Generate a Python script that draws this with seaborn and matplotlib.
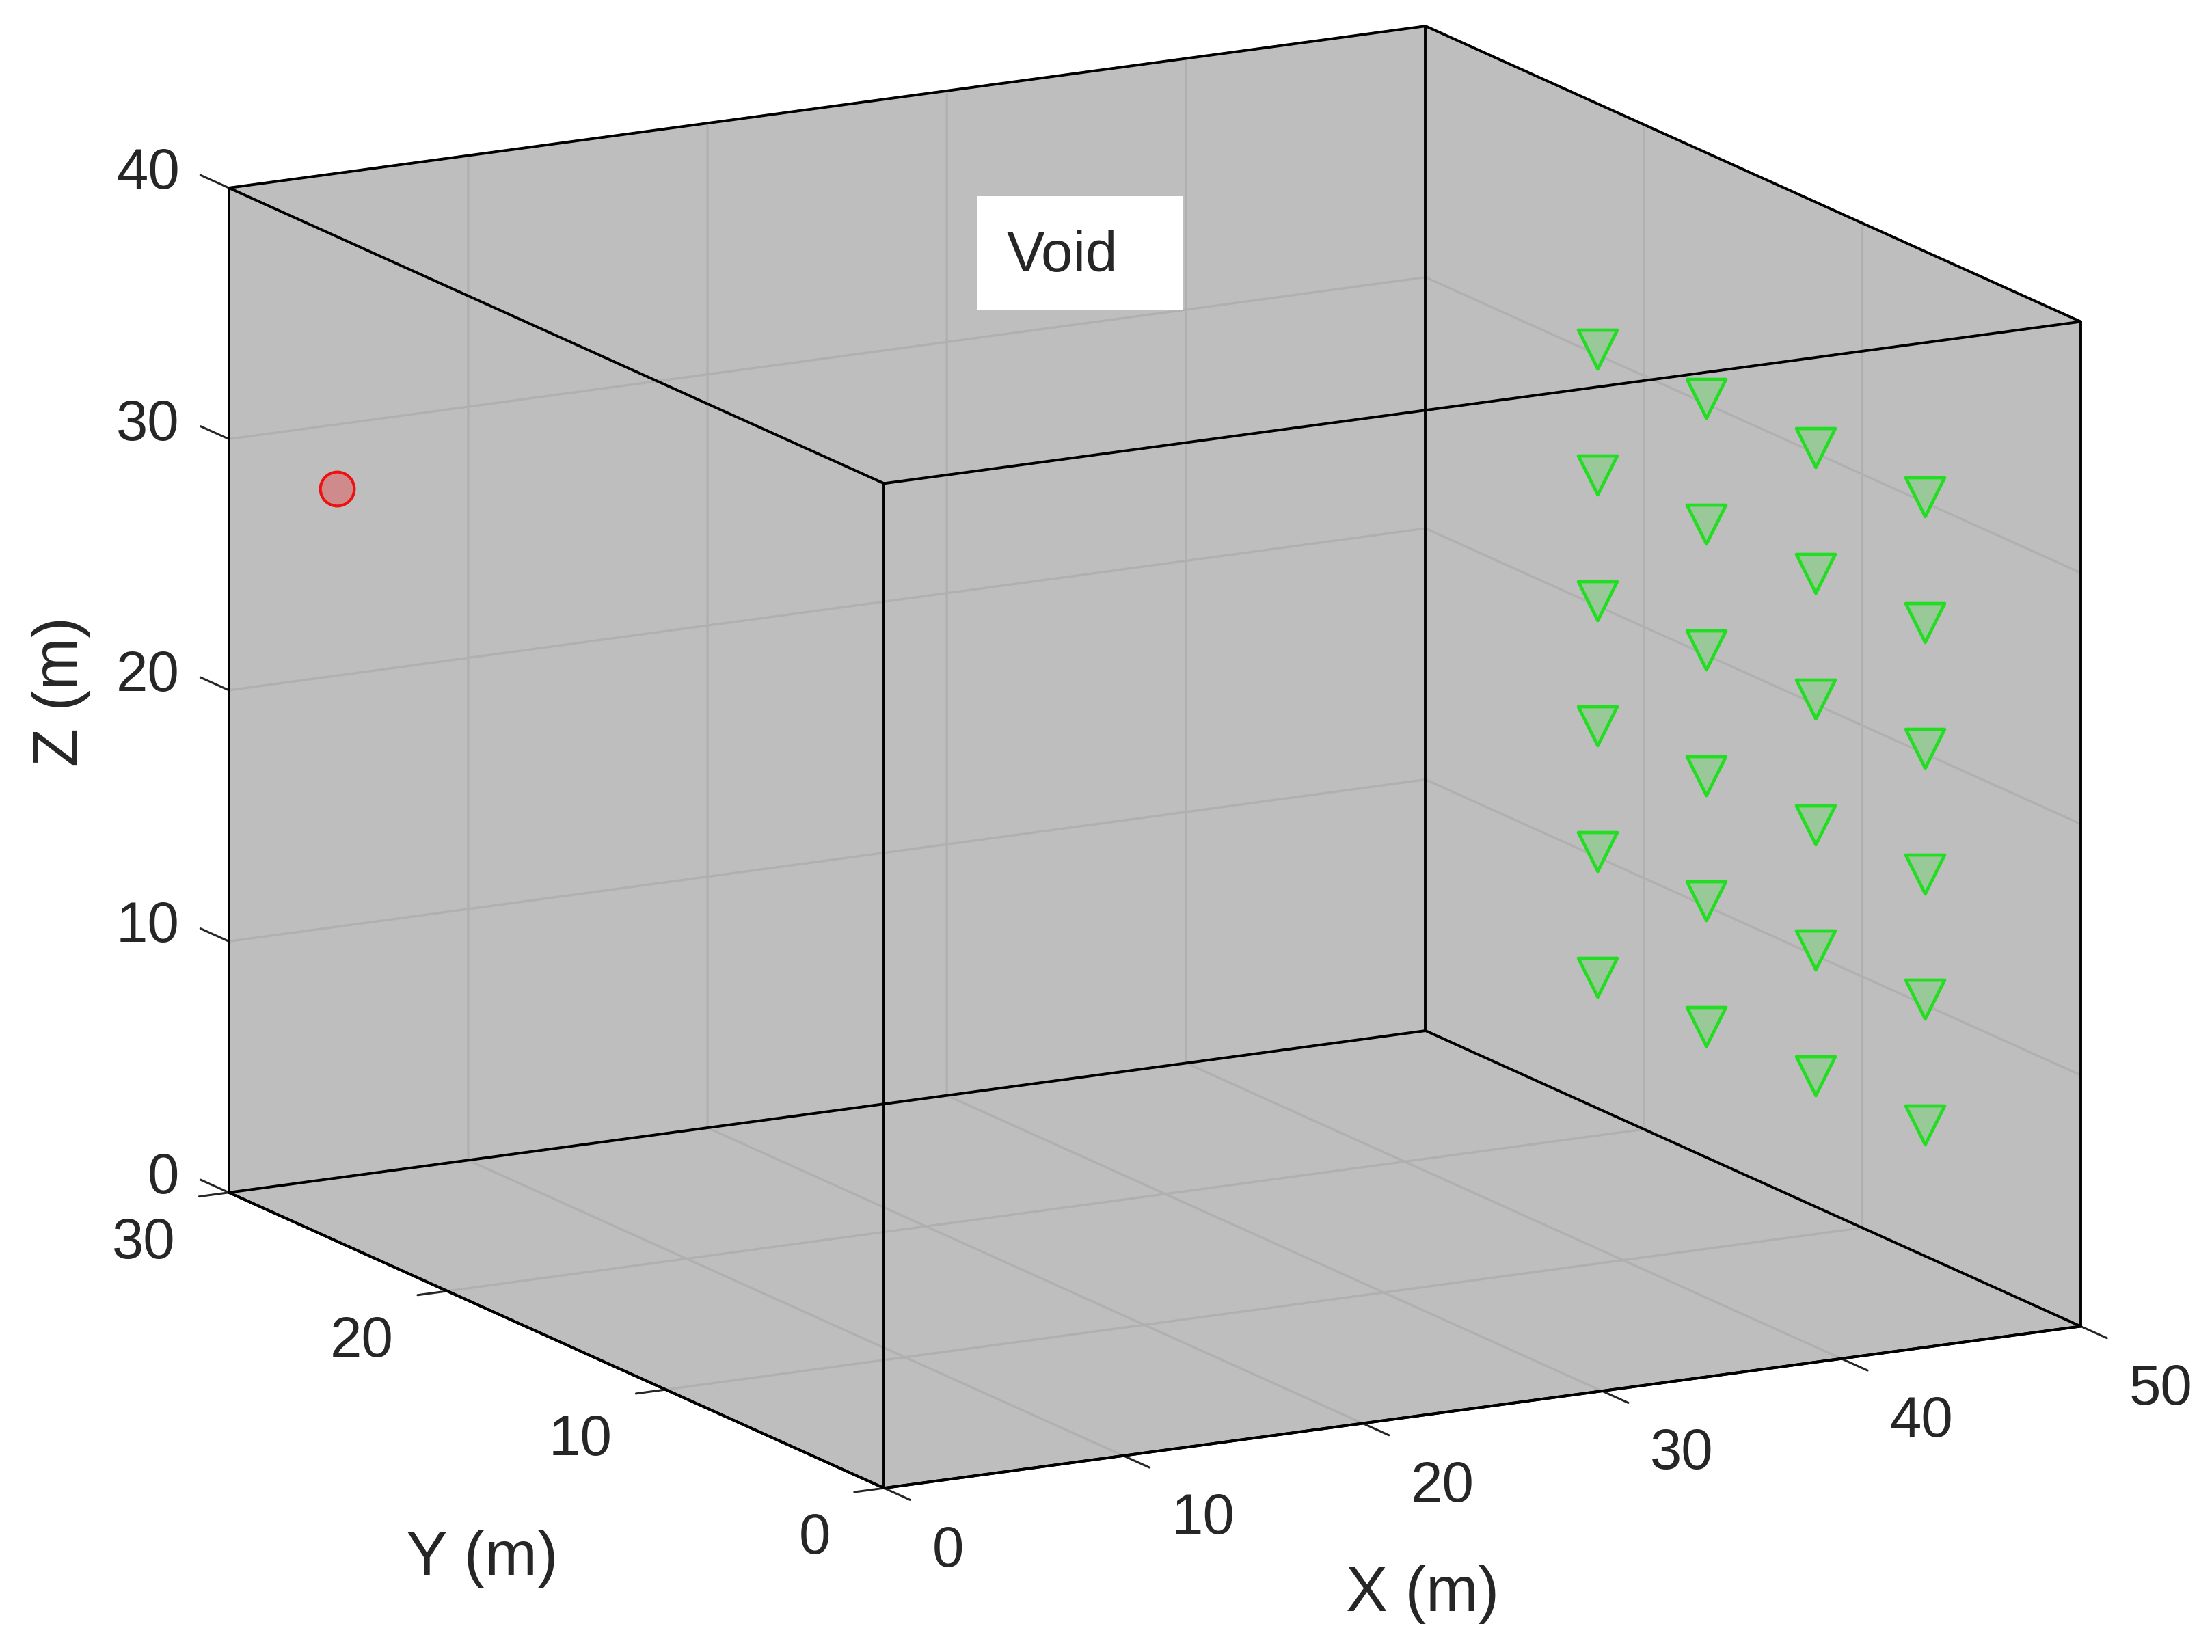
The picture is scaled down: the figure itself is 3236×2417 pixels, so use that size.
import matplotlib

matplotlib.use("Agg")
import matplotlib.pyplot as plt
import pandas as pd
import seaborn as sns
from matplotlib.patches import Rectangle
from mpl_toolkits.mplot3d import proj3d

sns.set_theme(style="white")
plt.rcParams["font.family"] = ["Liberation Sans", "DejaVu Sans"]

x_ticks = [0, 10, 20, 30, 40, 50]
y_ticks = [0, 10, 20, 30]
z_ticks = [0, 10, 20, 30, 40]

receiver_x = [48.05] * 24
receiver_y = [20] * 6 + [15] * 6 + [10] * 6 + [5] * 6
receiver_z = [6.3, 11.3, 16.3, 21.3, 26.3, 31.3] * 4
source_x = [2.0]
source_y = [27.25]
source_z = [28.85]

receivers = pd.DataFrame({"x": receiver_x, "y": receiver_y, "z": receiver_z})

PANE = "#bebebe"
TEXT = "#262626"
GRID = "#b0b0b0"
EDGE_WIDTH = 1.4
TICK_SIZE = 30
LABEL_SIZE = 33

fig = plt.figure(figsize=(16.185, 12.085), dpi=200, facecolor="white")
ax = fig.add_axes([0.0118, 0.0282, 1.0, 1.0], projection="3d", proj_type="ortho")
ax.view_init(elev=14.3, azim=-118.7)
ax.set_box_aspect((1.0, 1.0, 0.76), zoom=1.287)
ax.patch.set_alpha(0)

ax.set_xlim(0, 50)
ax.set_ylim(0, 30)
ax.set_zlim(0, 40)
ax.set_xticks(x_ticks, labels=[])
ax.set_yticks(y_ticks, labels=[])
ax.set_zticks(z_ticks, labels=[])

for axis in (ax.xaxis, ax.yaxis, ax.zaxis):
    axis.set_pane_color(PANE)
    axis.pane.set_edgecolor("none")
    axis.line.set_color("black")
    axis.line.set_linewidth(EDGE_WIDTH)
    axis._axinfo["grid"].update(color=GRID, linewidth=1.2)
    axis._axinfo["tick"]["linewidth"] = {True: 1.1, False: 1.1}
    axis._axinfo["tick"]["color"] = TEXT
    axis.set_tick_params(colors=TEXT)

ax.xaxis._axinfo["tick"].update(inward_factor=0.0, outward_factor=-0.5)
ax.yaxis._axinfo["tick"].update(inward_factor=0.0, outward_factor=-0.31)
# z ticks point along y here, mplot3d only does x for this view, so they are drawn below
ax.zaxis._axinfo["tick"].update(inward_factor=0.0, outward_factor=0.0)

for v in z_ticks:
    ax.plot([0, 0], [30, 31.3], [v, v], color=TEXT, linewidth=1.1, clip_on=False)

# box edges, all twelve as matlab draws them
for xs, ys, zs in [
    ([0, 0], [0, 0], [0, 40]),
    ([50, 50], [0, 0], [0, 40]),
    ([0, 0], [30, 30], [0, 40]),
    ([50, 50], [30, 30], [0, 40]),
    ([0, 50], [0, 0], [0, 0]),
    ([0, 50], [30, 30], [0, 0]),
    ([0, 50], [0, 0], [40, 40]),
    ([0, 50], [30, 30], [40, 40]),
    ([0, 0], [0, 30], [0, 0]),
    ([50, 50], [0, 30], [0, 0]),
    ([0, 0], [0, 30], [40, 40]),
    ([50, 50], [0, 30], [40, 40]),
]:
    ax.plot(xs, ys, zs, color="black", linewidth=EDGE_WIDTH, zorder=10, clip_on=False)

ax.set_xlim(0, 50)
ax.set_ylim(0, 30)
ax.set_zlim(0, 40)

ax.scatter(
    receivers["x"], receivers["y"], receivers["z"],
    marker="v", s=420, facecolor="#99c899", edgecolor="#22dd22",
    linewidth=1.7, depthshade=False, zorder=11, clip_on=False,
)
ax.scatter(
    source_x, source_y, source_z,
    marker="o", s=320, facecolor="#cf8b8b", edgecolor="#ee1111",
    linewidth=1.5, depthshade=False, zorder=11, clip_on=False,
)


def put_text(x, y, z, s, size=TICK_SIZE, **kwargs):
    # project by hand so the text stays an ordinary 2d text with a true extent
    px, py, _ = proj3d.proj_transform(x, y, z, ax.get_proj())
    ax.text2D(px, py, s, transform=ax.transData, fontsize=size, color=TEXT, va="center", **kwargs)


# tick labels and axis titles sit where matlab puts them, mplot3d can't offset them this way
for v in x_ticks:
    put_text(v, -2.2, -1.65, str(v), ha="left")
for v in y_ticks:
    put_text(-2.24, v, -1.72, str(v), ha="right")
for v in z_ticks:
    put_text(0, 32.26, v - 0.32, str(v), ha="right")

put_text(22.5, 0, -7.15, "X (m)", size=LABEL_SIZE, ha="center")
put_text(0, 18.4, -10.05, "Y (m)", size=LABEL_SIZE, ha="center")
put_text(0, 37.68, 16.95, "Z (m)", size=LABEL_SIZE, ha="center", rotation=90)

fig.add_artist(
    Rectangle((1430 / 3237, 1 - 453 / 2417), 300 / 3237, 166 / 2417,
              transform=fig.transFigure, facecolor="white", edgecolor="none")
)
fig.text(1473 / 3237, 1 - 375 / 2417, "Void", fontsize=TICK_SIZE, color=TEXT, va="center", ha="left")

fig.savefig("out.png", dpi=200)
